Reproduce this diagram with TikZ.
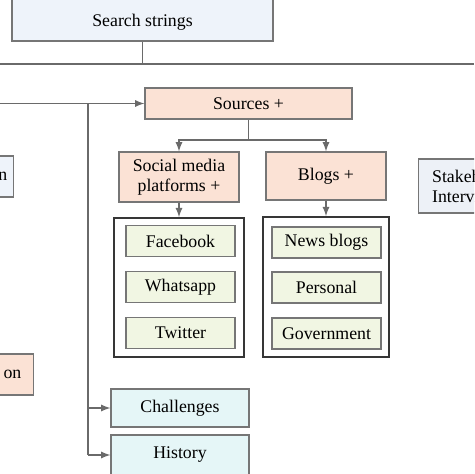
\documentclass[tikz,border=0pt]{standalone}
\usepackage{fontspec}
\setmainfont{Liberation Serif}
\usepackage{tikz}

\definecolor{searchblue}{HTML}{EEF3FA}
\definecolor{sourcepeach}{HTML}{FBE2D5}
\definecolor{itemgreen}{HTML}{F1F6E3}
\definecolor{topiccyan}{HTML}{E5F6F7}
\definecolor{stakeblue}{HTML}{EDF1F7}
\definecolor{boxgray}{HTML}{767676}
\definecolor{linkgray}{HTML}{6A6A6A}
\definecolor{groupgray}{HTML}{363636}

\tikzset{
    box/.style={draw=boxgray,line width=0.6pt,inner sep=1pt,font=\fontsize{8.9}{10}\selectfont},
    item/.style={box,fill=itemgreen,minimum width=54.5pt,minimum height=15.5pt},
    group/.style={draw=groupgray,line width=0.8pt},
    link/.style={draw=linkgray,line width=0.6pt}
}

\begin{document}
\begin{tikzpicture}[x=0.5pt,y=-0.5pt,>=latex]
        \useasboundingbox (0,0) rectangle (474,474);
        \clip (0,0) rectangle (474,474);
        \node[box,fill=searchblue,minimum width=130.5pt,minimum height=22pt,text height=9.3pt,text depth=2pt] (search) at (142.5,19) {Search strings};
        \node[box,fill=sourcepeach,minimum width=103.5pt,minimum height=15.5pt] (sources) at (248.5,103.5) {Sources +};
        \node[box,fill=sourcepeach,minimum width=60pt,minimum height=25pt,align=center] (social) at (179,177) {Social media\\platforms +};
        \node[box,fill=sourcepeach,minimum width=60pt,minimum height=24pt] (blogs) at (326,176) {Blogs +};
        \node[group,minimum width=65pt,minimum height=69.5pt] (socialgroup) at (179,287.5) {};
        \node[item] (facebook) at (180.5,241) {Facebook};
        \node[item] (whatsapp) at (180.5,287) {Whatsapp};
        \node[item] (twitter) at (180.5,333) {Twitter};
        \node[group,minimum width=63pt,minimum height=70pt] (bloggroup) at (326,287) {};
        \node[item] (newsblogs) at (326.5,242.5) {News blogs};
        \node[item] (personal) at (326.5,287.5) {Personal};
        \node[item] (government) at (326.5,333.5) {Government};
        \node[box,fill=topiccyan,minimum width=69pt,minimum height=19pt] (challenges) at (180,408) {Challenges};
        \node[box,fill=topiccyan,minimum width=69pt,minimum height=20pt] (history) at (180,455) {History};
        \node[box,fill=stakeblue,minimum width=56pt,minimum height=27pt,align=left,anchor=west] (stake) at (418,186) {Stakeholder\\Interviews};
        \node[box,fill=searchblue,minimum height=20.5pt,text width=50pt,align=right,inner xsep=3pt,anchor=east] (leftn) at (14,176.5) {n};
        \node[box,fill=sourcepeach,minimum height=20.5pt,text width=50pt,align=right,inner xsep=6pt,anchor=east] (lefton) at (34,374.5) {on};
        \coordinate (busleft) at (0,64);
        \coordinate (busright) at (474,64);
        \coordinate (sourcesfeed) at (0,103.5);
        \coordinate (trunktop) at (88,103.5);
        \coordinate (splitlevel) at (0,140);
        \draw[link] (search.south) -- (search.south |- busleft);
        \draw[link] (busleft) -- (busright);
        \draw[link,->] (sourcesfeed) -- (sources.west);
        \draw[link] (trunktop) -- (trunktop |- history.west);
        \draw[link,->] (trunktop |- challenges.west) -- (challenges.west);
        \draw[link,->] (trunktop |- history.west) -- (history.west);
        \draw[link] (sources.south) -- (sources.south |- splitlevel);
        \draw[link,->] (sources.south |- splitlevel) -| (social.north);
        \draw[link,->] (sources.south |- splitlevel) -| (blogs.north);
        \draw[link,->] (social.south) -- (socialgroup.north);
        \draw[link,->] (blogs.south) -- (bloggroup.north);
    \end{tikzpicture}
\end{document}
